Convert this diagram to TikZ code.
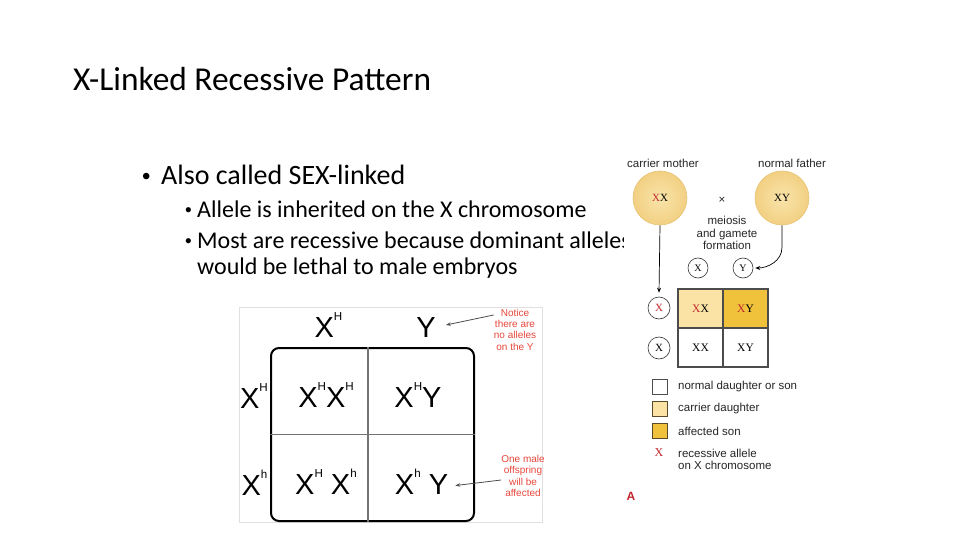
\documentclass[tikz,border=0pt]{standalone}
\usepackage{fontspec}
\setmainfont{Carlito}
\newfontfamily\arialf{Liberation Sans}
\newfontfamily\serf{Liberation Serif}
\usetikzlibrary{arrows.meta}
\definecolor{recred}{HTML}{C1272D}
\definecolor{notered}{HTML}{E8473C}
\definecolor{circin}{HTML}{F9E4AA}
\definecolor{circout}{HTML}{F2D083}
\definecolor{circline}{HTML}{E6C476}
\definecolor{carrier}{HTML}{FBE3A6}
\definecolor{affected}{HTML}{F0C23C}
\definecolor{boxline}{HTML}{5A4A2A}
\newcommand{\sx}[1]{X\raisebox{16.5pt}{\fontsize{11.6}{12}\selectfont #1}}
\begin{document}
\begin{tikzpicture}[x=1pt,y=-1pt,
  slidetitle/.style={anchor=base west,inner sep=0,font=\fontsize{33.4}{40}\selectfont},
  bulletA/.style={anchor=base west,inner sep=0,font=\fontsize{28}{34}\selectfont},
  bulletB/.style={anchor=base west,inner sep=0,font=\fontsize{24}{29}\selectfont},
  dotA/.style={anchor=base west,inner sep=0,font=\arialf\fontsize{24}{29}\selectfont},
  dotB/.style={anchor=base west,inner sep=0,font=\arialf\fontsize{19}{24}\selectfont},
  punlab/.style={anchor=base,inner sep=0,font=\arialf\fontsize{29}{32}\selectfont},
  notetext/.style={align=center,inner sep=0,text=notered,font=\arialf\fontsize{10}{11.3}\selectfont},
  notearr/.style={draw=black!70,line width=0.8,-{Stealth[length=5pt,width=3.5pt]}},
  divider/.style={draw=black!55,line width=1.6},
  smalllab/.style={inner sep=0,font=\arialf\fontsize{11.5}{12.7}\selectfont,text=black!85},
  parent/.style={circle,minimum size=54,inner sep=0,draw=circline,line width=0.6,inner color=circin,outer color=circout,font=\serf\fontsize{11}{12}\selectfont},
  gamete/.style={circle,draw=black!80,line width=0.6,inner sep=0,font=\serf\fontsize{10}{11}\selectfont},
  cell/.style={rectangle,draw=black!70,line width=1.1,minimum width=45,minimum height=39,inner sep=0,font=\serf\fontsize{11.5}{12}\selectfont},
  legbox/.style={rectangle,draw=boxline,line width=0.8,minimum size=15,inner sep=0},
  arr/.style={draw=black,line width=0.7,-{Stealth[length=5pt,width=4pt]}}]
\useasboundingbox (0,0) rectangle (960,540);
\fill[white] (0,0) rectangle (960,540);

% slide text
\node[slidetitle] (title) at (73,91) {X-Linked Recessive Pattern};
\node[dotA] (b1dot) at (142,184) {•};
\node[bulletA] (b1) at (161,185) {Also called SEX-linked};
\node[dotB] (b2dot) at (185,216) {•};
\node[bulletB] (b2) at (197,217) {Allele is inherited on the X chromosome};
\node[dotB] (b3dot) at (185,247) {•};
\node[bulletB] (b3) at (197,248) {Most are recessive because dominant alleles};
\node[bulletB] (b4) at (197,274) {would be lethal to male embryos};

% Punnett square image
\node[draw=black!12,line width=0.8,minimum width=303,minimum height=215,inner sep=0,fill=white] (img) at (390.5,414.5) {};
\node[draw,line width=2,rounded corners=8,minimum width=203,minimum height=173,inner sep=0] (grid) at (372.5,434.5) {};
\draw[divider] ([xshift=-4.5pt]grid.north) -- ([xshift=-4.5pt]grid.south);
\draw[divider] (grid.west) -- (grid.east);
\node[punlab] (topXH) at (328.5,337) {\sx{H}};
\node[punlab] (topY) at (426,337) {Y};
\node[punlab] (leftXH) at (254,408) {\sx{H}};
\node[punlab] (leftXh) at (254.5,495) {\sx{h}};
\node[punlab] (c1) at (326,407) {\sx{H}X\raisebox{16.5pt}{\fontsize{11.6}{12}\selectfont H}};
\node[punlab] (c2) at (418,407) {\sx{H}Y};
\node[punlab] (c3) at (326,494) {\sx{H} \sx{h}};
\node[punlab] (c4) at (421.5,494) {\sx{h} Y};
\node[notetext] (notice) at (515,329.5) {Notice\\there are\\no alleles\\on the Y};
\node[notetext] (affnote) at (523,476) {One male\\offspring\\will be\\affected};
\draw[notearr] ([yshift=14.5pt]notice.west) -- ([xshift=10pt,yshift=2pt]topY.east);
\draw[notearr] ([yshift=-4pt]affnote.west) -- ([xshift=7pt,yshift=-4pt]c4.east);

% right figure (image area covers the end of the bullet line)
\fill[white] (624,150) rectangle (832,512);
\node[smalllab] (mlab) at (663,163) {carrier mother};
\node[smalllab] (flab) at (792,163) {normal father};
\node[parent] (mother) at (660,198) {\textcolor{recred}{X}X};
\node[parent] (father) at (782,198) {XY};
\node[smalllab] (cross) at (722,200) {×};
\node[smalllab,align=center,font=\arialf\fontsize{11.5}{12.8}\selectfont] (meiosis) at (727,233) {meiosis\\and gamete\\formation};
\node[gamete,minimum size=20] (gx) at (698,268) {X};
\node[gamete,minimum size=20] (gy) at (743,268) {Y};
\node[gamete,minimum size=22,font=\serf\fontsize{11}{12}\selectfont] (rx) at (659,308) {\textcolor{recred}{X}};
\node[gamete,minimum size=22,font=\serf\fontsize{11}{12}\selectfont] (nx) at (659,348) {X};
\node[cell,fill=carrier] (c11) at (700.5,308.5) {\textcolor{recred}{X}X};
\node[cell,fill=affected] (c12) at (745.5,308.5) {\textcolor{recred}{X}Y};
\node[cell] (c21) at (700.5,347.5) {XX};
\node[cell] (c22) at (745.5,347.5) {XY};
\draw[arr] (mother.south) -- ([yshift=4pt]rx.north);
\draw[arr] (father.south) -- ++(0,22) .. controls +(0,14) and +(12,0) .. ([xshift=2pt]gy.east);

% legend
\node[legbox,draw=black!70,fill=white] (l1) at (659.5,387) {};
\node[legbox,fill=carrier] (l2) at (659.5,409) {};
\node[legbox,fill=affected] (l3) at (659.5,431) {};
\node[inner sep=0,text=recred,font=\serf\fontsize{12}{12}\selectfont] (l4) at (659,453) {X};
\node[smalllab,anchor=west] (t1) at (678,387) {normal daughter or son};
\node[smalllab,anchor=west] (t2) at (678,409) {carrier daughter};
\node[smalllab,anchor=west] (t3) at (678,431) {affected son};
\node[smalllab,anchor=west,align=left] (t4) at (678,459.5) {recessive allele\\on X chromosome};
\node[inner sep=0,text=recred,font=\arialf\bfseries\fontsize{12}{12}\selectfont] (Alab) at (631,496) {A};
\end{tikzpicture}
\end{document}
